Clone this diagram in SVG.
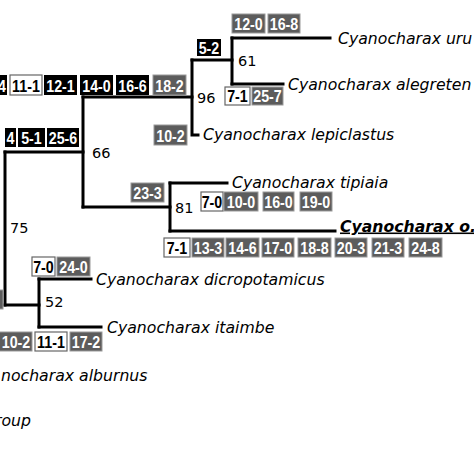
<svg xmlns="http://www.w3.org/2000/svg" width="474" height="474" viewBox="0 0 474 474">
<style>
.k rect{fill:#000}
.g rect{fill:#5c5c5c;stroke:#9a9a9a;stroke-width:1}
.w rect{fill:#fff;stroke:#666;stroke-width:1.2}
.lb{font-family:"Liberation Sans",Arial,sans-serif;font-weight:bold;font-size:17px;text-anchor:middle}
.k text,.g text{fill:#fff}
.w text{fill:#000}
.sp{font-family:"DejaVu Sans",Verdana,sans-serif;font-style:italic;font-size:15.7px;fill:#000}
.bs{font-family:"DejaVu Sans",Verdana,sans-serif;font-size:14.5px;fill:#000}
.br{fill:none;stroke:#000;stroke-width:3;stroke-linecap:square}
</style>
<rect width="474" height="474" fill="#fff"/>
<g id="connectors" class="br">
<path d="M83 97H192"/>
<path d="M83 97V207"/>
<path d="M5 152H83"/>
<path d="M5 152V305"/>
<path d="M5 305H39"/>
<path d="M39 279V327"/>
<path d="M39 279H91"/>
<path d="M39 327H101"/>
<path d="M83 207H170"/>
<path d="M170 183V231"/>
<path d="M170 183H227"/>
<path d="M170 231H335"/>
<path d="M192 60V135H198"/>
<path d="M192 60H232"/>
<path d="M232 38V84"/>
<path d="M232 38H330"/>
<path d="M232 84H283"/>
</g>
<g id="characters">
<g class="k"><rect x="-20" y="75" width="27" height="20"/><text class="lb" transform="translate(2 92) scale(0.84 1)">4</text></g>
<g class="w"><rect x="10" y="75" width="32" height="20"/><text class="lb" transform="translate(26 92) scale(0.84 1)">11-1</text></g>
<g class="k"><rect x="44" y="75" width="33" height="20"/><text class="lb" transform="translate(60.5 92) scale(0.84 1)">12-1</text></g>
<g class="k"><rect x="80" y="75" width="33" height="20"/><text class="lb" transform="translate(96.5 92) scale(0.84 1)">14-0</text></g>
<g class="k"><rect x="116" y="75" width="33" height="20"/><text class="lb" transform="translate(132.5 92) scale(0.84 1)">16-6</text></g>
<g class="g"><rect x="153" y="75" width="33" height="20"/><text class="lb" transform="translate(169.5 92) scale(0.84 1)">18-2</text></g>

<g class="k"><rect x="5" y="128" width="11" height="19"/><text class="lb" transform="translate(10.5 144) scale(0.84 1)">4</text></g>
<g class="k"><rect x="18" y="128" width="27" height="19"/><text class="lb" transform="translate(31.5 144) scale(0.84 1)">5-1</text></g>
<g class="k"><rect x="47" y="128" width="32" height="19"/><text class="lb" transform="translate(63 144) scale(0.84 1)">25-6</text></g>
<g class="g"><rect x="154" y="125" width="33" height="20"/><text class="lb" transform="translate(170.5 142) scale(0.84 1)">10-2</text></g>

<g class="k"><rect x="197" y="39" width="24" height="17"/><text class="lb" transform="translate(209 54) scale(0.84 1)">5-2</text></g>
<g class="g"><rect x="232" y="14" width="33" height="19"/><text class="lb" transform="translate(248.5 30) scale(0.84 1)">12-0</text></g>
<g class="g"><rect x="268" y="14" width="32" height="19"/><text class="lb" transform="translate(284 30) scale(0.84 1)">16-8</text></g>
<g class="w"><rect x="225" y="87" width="25" height="18"/><text class="lb" transform="translate(237.5 102) scale(0.84 1)">7-1</text></g>
<g class="g"><rect x="252" y="87" width="31" height="18"/><text class="lb" transform="translate(267.5 102) scale(0.84 1)">25-7</text></g>

<g class="g"><rect x="131" y="183" width="33" height="19"/><text class="lb" transform="translate(147.5 199) scale(0.84 1)">23-3</text></g>
<g class="w"><rect x="201" y="192" width="22" height="19"/><text class="lb" transform="translate(212 208) scale(0.84 1)">7-0</text></g>
<g class="g"><rect x="224" y="192" width="34" height="19"/><text class="lb" transform="translate(241 208) scale(0.84 1)">10-0</text></g>
<g class="g"><rect x="263" y="192" width="31" height="19"/><text class="lb" transform="translate(278.5 208) scale(0.84 1)">16-0</text></g>
<g class="g"><rect x="300" y="192" width="32" height="19"/><text class="lb" transform="translate(316 208) scale(0.84 1)">19-0</text></g>

<g class="w"><rect x="164" y="238" width="26" height="19"/><text class="lb" transform="translate(177 254) scale(0.84 1)">7-1</text></g>
<g class="g"><rect x="192" y="238" width="32" height="19"/><text class="lb" transform="translate(208 254) scale(0.84 1)">13-3</text></g>
<g class="g"><rect x="226" y="238" width="33" height="19"/><text class="lb" transform="translate(242.5 254) scale(0.84 1)">14-6</text></g>
<g class="g"><rect x="262" y="238" width="32" height="19"/><text class="lb" transform="translate(278 254) scale(0.84 1)">17-0</text></g>
<g class="g"><rect x="298" y="238" width="33" height="19"/><text class="lb" transform="translate(314.5 254) scale(0.84 1)">18-8</text></g>
<g class="g"><rect x="335" y="238" width="32" height="19"/><text class="lb" transform="translate(351 254) scale(0.84 1)">20-3</text></g>
<g class="g"><rect x="372" y="238" width="32" height="19"/><text class="lb" transform="translate(388 254) scale(0.84 1)">21-3</text></g>
<g class="g"><rect x="409" y="238" width="33" height="19"/><text class="lb" transform="translate(425.5 254) scale(0.84 1)">24-8</text></g>

<g class="w"><rect x="32" y="257" width="23" height="19"/><text class="lb" transform="translate(43.5 273) scale(0.84 1)">7-0</text></g>
<g class="g"><rect x="57" y="257" width="33" height="19"/><text class="lb" transform="translate(73.5 273) scale(0.84 1)">24-0</text></g>
<g class="g"><rect x="-25" y="290" width="28" height="19"/></g>
<g class="g"><rect x="-1" y="332" width="33" height="19"/><text class="lb" transform="translate(16 348) scale(0.84 1)">10-2</text></g>
<g class="w"><rect x="35" y="332" width="32" height="19"/><text class="lb" transform="translate(51 348) scale(0.84 1)">11-1</text></g>
<g class="g"><rect x="70" y="332" width="32" height="19"/><text class="lb" transform="translate(86 348) scale(0.84 1)">17-2</text></g>
</g>
<g id="support">
<text class="bs" x="197" y="103">96</text>
<text class="bs" x="238" y="66">61</text>
<text class="bs" x="92" y="158">66</text>
<text class="bs" x="175" y="213">81</text>
<text class="bs" x="10" y="233">75</text>
<text class="bs" x="45" y="307">52</text>
</g>
<g id="taxa">
<text id="t-uru" class="sp" x="338" y="43.5">Cyanocharax uru</text>
<text id="t-aleg" class="sp" x="288" y="89.5">Cyanocharax alegreten</text>
<text id="t-lepi" class="sp" x="203" y="140">Cyanocharax lepiclastus</text>
<text id="t-tipi" class="sp" x="232" y="188">Cyanocharax tipiaia</text>
<text id="t-o" class="sp" x="340" y="231.5" font-weight="bold" text-decoration="underline">Cyanocharax o.</text>
<text id="t-dicro" class="sp" x="96" y="285">Cyanocharax dicropotamicus</text>
<text id="t-itai" class="sp" x="107" y="333">Cyanocharax itaimbe</text>
<text id="t-alb" class="sp" x="1" y="381">nocharax alburnus</text>
<text id="t-grp" class="sp" x="-5" y="426">roup</text>
</g>
</svg>
